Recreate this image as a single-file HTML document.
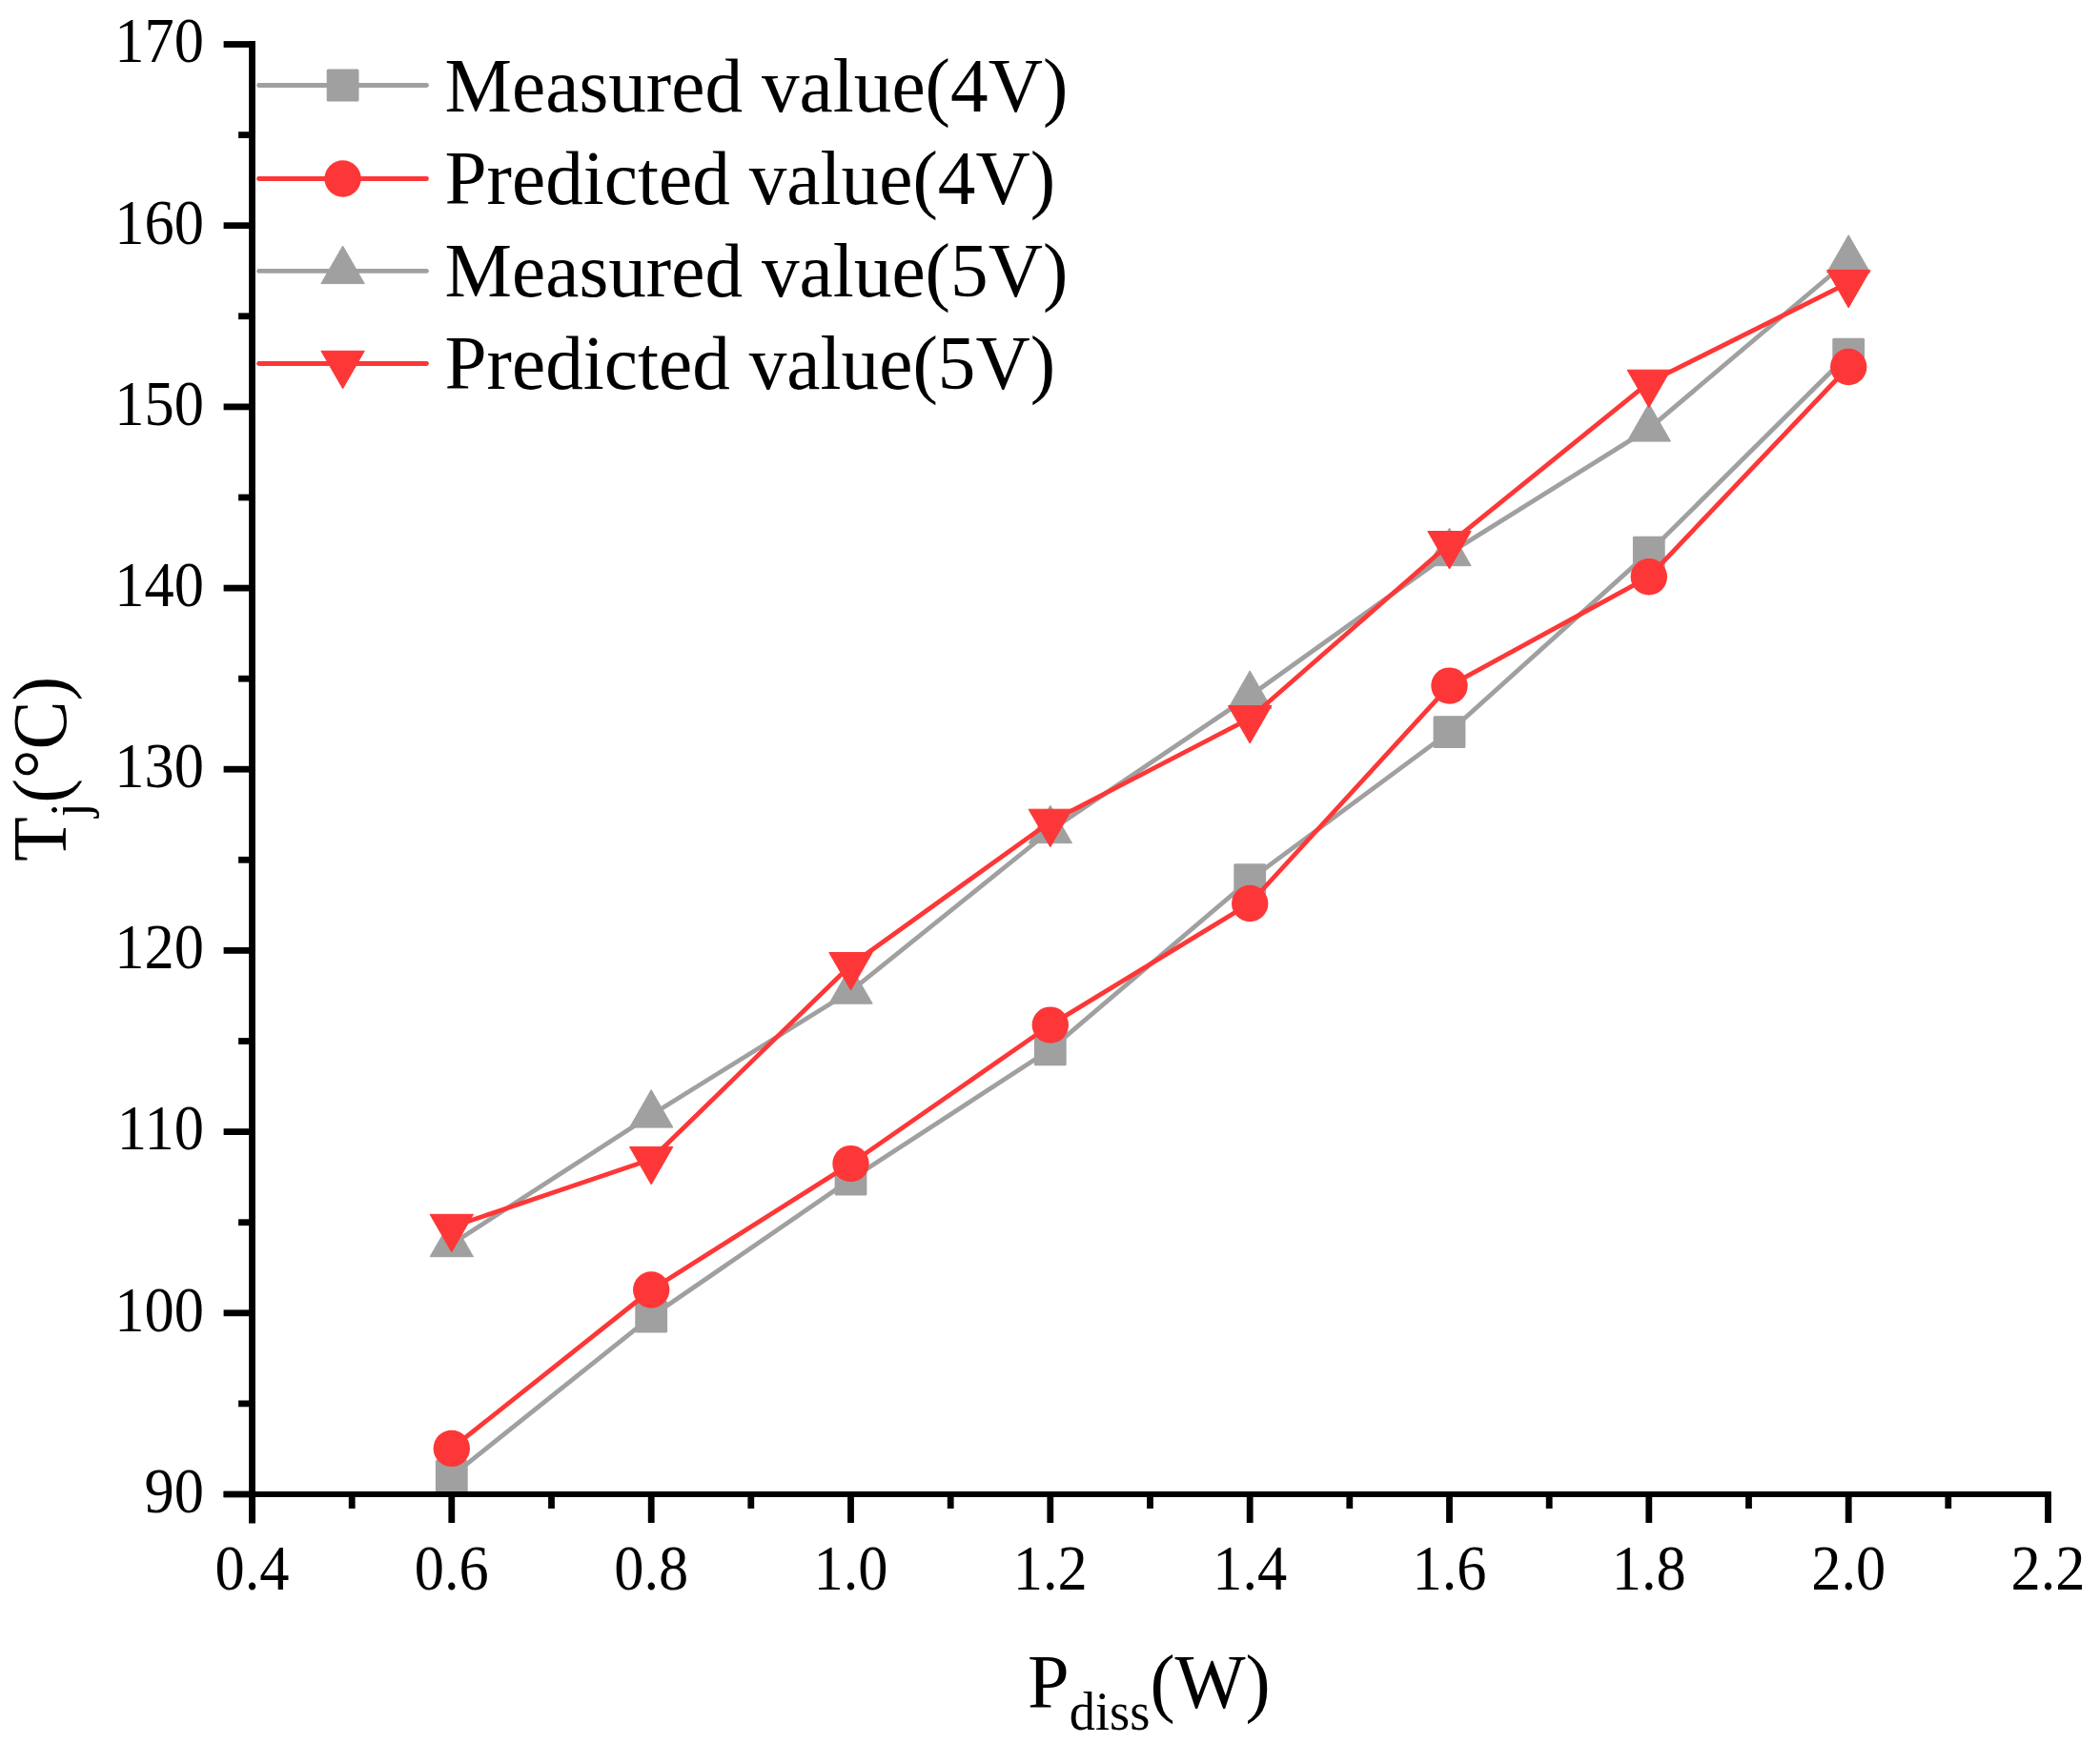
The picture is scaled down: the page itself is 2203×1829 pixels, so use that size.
<!DOCTYPE html>
<html><head><meta charset="utf-8"><title>Tj vs Pdiss</title>
<style>
html,body{margin:0;padding:0;background:#fff;}
body{width:2203px;height:1829px;overflow:hidden;}
svg{display:block;}
text{font-family:"Liberation Serif","Times New Roman",serif;fill:#000;}
</style></head><body>
<svg width="2203" height="1829" viewBox="0 0 2203 1829">
<rect width="2203" height="1829" fill="#fff"/>
<g>
<polyline points="473.8,1549.0 683.2,1381.6 892.5,1237.6 1101.8,1101.3 1311.2,923.1 1520.5,768.1 1729.8,579.6 1939.2,371.7" fill="none" stroke="#a0a0a0" stroke-width="4.8" stroke-linejoin="round" stroke-linecap="round"/>
<rect x="456.9" y="1532.1" width="33.8" height="33.8" rx="1.5" fill="#a0a0a0"/>
<rect x="666.3" y="1364.7" width="33.8" height="33.8" rx="1.5" fill="#a0a0a0"/>
<rect x="875.6" y="1220.7" width="33.8" height="33.8" rx="1.5" fill="#a0a0a0"/>
<rect x="1084.9" y="1084.4" width="33.8" height="33.8" rx="1.5" fill="#a0a0a0"/>
<rect x="1294.3" y="906.2" width="33.8" height="33.8" rx="1.5" fill="#a0a0a0"/>
<rect x="1503.6" y="751.2" width="33.8" height="33.8" rx="1.5" fill="#a0a0a0"/>
<rect x="1712.9" y="562.7" width="33.8" height="33.8" rx="1.5" fill="#a0a0a0"/>
<rect x="1922.3" y="354.8" width="33.8" height="33.8" rx="1.5" fill="#a0a0a0"/>
<polyline points="473.8,1519.9 683.2,1353.5 892.5,1221.1 1101.8,1075.6 1311.2,948.0 1520.5,719.6 1729.8,605.3 1939.2,385.0" fill="none" stroke="#fd3737" stroke-width="4.8" stroke-linejoin="round" stroke-linecap="round"/>
<circle cx="473.8" cy="1519.9" r="19.2" fill="#fd3737"/>
<circle cx="683.2" cy="1353.5" r="19.2" fill="#fd3737"/>
<circle cx="892.5" cy="1221.1" r="19.2" fill="#fd3737"/>
<circle cx="1101.8" cy="1075.6" r="19.2" fill="#fd3737"/>
<circle cx="1311.2" cy="948.0" r="19.2" fill="#fd3737"/>
<circle cx="1520.5" cy="719.6" r="19.2" fill="#fd3737"/>
<circle cx="1729.8" cy="605.3" r="19.2" fill="#fd3737"/>
<circle cx="1939.2" cy="385.0" r="19.2" fill="#fd3737"/>
<polyline points="473.8,1305.5 683.2,1169.9 892.5,1040.0 1101.8,871.5 1311.2,730.2 1520.5,580.5 1729.8,449.9 1939.2,273.0" fill="none" stroke="#a0a0a0" stroke-width="4.8" stroke-linejoin="round" stroke-linecap="round"/>
<polygon points="473.8,1279.2 496.5,1318.7 451.1,1318.7" fill="#a0a0a0" stroke="#a0a0a0" stroke-width="1" stroke-linejoin="round"/>
<polygon points="683.2,1143.6 705.9,1183.1 660.5,1183.1" fill="#a0a0a0" stroke="#a0a0a0" stroke-width="1" stroke-linejoin="round"/>
<polygon points="892.5,1013.7 915.2,1053.2 869.8,1053.2" fill="#a0a0a0" stroke="#a0a0a0" stroke-width="1" stroke-linejoin="round"/>
<polygon points="1101.8,845.2 1124.5,884.7 1079.1,884.7" fill="#a0a0a0" stroke="#a0a0a0" stroke-width="1" stroke-linejoin="round"/>
<polygon points="1311.2,703.9 1333.9,743.4 1288.5,743.4" fill="#a0a0a0" stroke="#a0a0a0" stroke-width="1" stroke-linejoin="round"/>
<polygon points="1520.5,554.2 1543.2,593.7 1497.8,593.7" fill="#a0a0a0" stroke="#a0a0a0" stroke-width="1" stroke-linejoin="round"/>
<polygon points="1729.8,423.6 1752.5,463.1 1707.1,463.1" fill="#a0a0a0" stroke="#a0a0a0" stroke-width="1" stroke-linejoin="round"/>
<polygon points="1939.2,246.7 1961.9,286.2 1916.5,286.2" fill="#a0a0a0" stroke="#a0a0a0" stroke-width="1" stroke-linejoin="round"/>
<polyline points="473.8,1287.5 683.2,1216.5 892.5,1012.7 1101.8,862.4 1311.2,753.8 1520.5,570.7 1729.8,401.4 1939.2,296.6" fill="none" stroke="#fd3737" stroke-width="4.8" stroke-linejoin="round" stroke-linecap="round"/>
<polygon points="451.1,1274.3 496.5,1274.3 473.8,1313.8" fill="#fd3737" stroke="#fd3737" stroke-width="1" stroke-linejoin="round"/>
<polygon points="660.5,1203.4 705.9,1203.4 683.2,1242.9" fill="#fd3737" stroke="#fd3737" stroke-width="1" stroke-linejoin="round"/>
<polygon points="869.8,999.5 915.2,999.5 892.5,1039.0" fill="#fd3737" stroke="#fd3737" stroke-width="1" stroke-linejoin="round"/>
<polygon points="1079.1,849.2 1124.5,849.2 1101.8,888.7" fill="#fd3737" stroke="#fd3737" stroke-width="1" stroke-linejoin="round"/>
<polygon points="1288.5,740.6 1333.9,740.6 1311.2,780.1" fill="#fd3737" stroke="#fd3737" stroke-width="1" stroke-linejoin="round"/>
<polygon points="1497.8,557.5 1543.2,557.5 1520.5,597.0" fill="#fd3737" stroke="#fd3737" stroke-width="1" stroke-linejoin="round"/>
<polygon points="1707.1,388.2 1752.5,388.2 1729.8,427.7" fill="#fd3737" stroke="#fd3737" stroke-width="1" stroke-linejoin="round"/>
<polygon points="1916.5,283.4 1961.9,283.4 1939.2,322.9" fill="#fd3737" stroke="#fd3737" stroke-width="1" stroke-linejoin="round"/>
</g>
<line x1="264.5" y1="43.1" x2="264.5" y2="1598.4" stroke="#000" stroke-width="6.8"/>
<line x1="234.60000000000002" y1="1568.0" x2="2151.9" y2="1568.0" stroke="#000" stroke-width="6"/>
<line x1="234.6" y1="1568.0" x2="264.5" y2="1568.0" stroke="#000" stroke-width="6.8"/>
<line x1="250.1" y1="1472.9" x2="264.5" y2="1472.9" stroke="#000" stroke-width="6.8"/>
<line x1="234.6" y1="1377.8" x2="264.5" y2="1377.8" stroke="#000" stroke-width="6.8"/>
<line x1="250.1" y1="1282.7" x2="264.5" y2="1282.7" stroke="#000" stroke-width="6.8"/>
<line x1="234.6" y1="1187.6" x2="264.5" y2="1187.6" stroke="#000" stroke-width="6.8"/>
<line x1="250.1" y1="1092.5" x2="264.5" y2="1092.5" stroke="#000" stroke-width="6.8"/>
<line x1="234.6" y1="997.4" x2="264.5" y2="997.4" stroke="#000" stroke-width="6.8"/>
<line x1="250.1" y1="902.3" x2="264.5" y2="902.3" stroke="#000" stroke-width="6.8"/>
<line x1="234.6" y1="807.2" x2="264.5" y2="807.2" stroke="#000" stroke-width="6.8"/>
<line x1="250.1" y1="712.2" x2="264.5" y2="712.2" stroke="#000" stroke-width="6.8"/>
<line x1="234.6" y1="617.1" x2="264.5" y2="617.1" stroke="#000" stroke-width="6.8"/>
<line x1="250.1" y1="522.0" x2="264.5" y2="522.0" stroke="#000" stroke-width="6.8"/>
<line x1="234.6" y1="426.9" x2="264.5" y2="426.9" stroke="#000" stroke-width="6.8"/>
<line x1="250.1" y1="331.8" x2="264.5" y2="331.8" stroke="#000" stroke-width="6.8"/>
<line x1="234.6" y1="236.7" x2="264.5" y2="236.7" stroke="#000" stroke-width="6.8"/>
<line x1="250.1" y1="141.6" x2="264.5" y2="141.6" stroke="#000" stroke-width="6.8"/>
<line x1="234.6" y1="46.5" x2="264.5" y2="46.5" stroke="#000" stroke-width="6.8"/>
<line x1="264.5" y1="1568.0" x2="264.5" y2="1598.0" stroke="#000" stroke-width="6.8"/>
<line x1="369.2" y1="1568.0" x2="369.2" y2="1583.0" stroke="#000" stroke-width="6.8"/>
<line x1="473.8" y1="1568.0" x2="473.8" y2="1598.0" stroke="#000" stroke-width="6.8"/>
<line x1="578.5" y1="1568.0" x2="578.5" y2="1583.0" stroke="#000" stroke-width="6.8"/>
<line x1="683.2" y1="1568.0" x2="683.2" y2="1598.0" stroke="#000" stroke-width="6.8"/>
<line x1="787.8" y1="1568.0" x2="787.8" y2="1583.0" stroke="#000" stroke-width="6.8"/>
<line x1="892.5" y1="1568.0" x2="892.5" y2="1598.0" stroke="#000" stroke-width="6.8"/>
<line x1="997.2" y1="1568.0" x2="997.2" y2="1583.0" stroke="#000" stroke-width="6.8"/>
<line x1="1101.8" y1="1568.0" x2="1101.8" y2="1598.0" stroke="#000" stroke-width="6.8"/>
<line x1="1206.5" y1="1568.0" x2="1206.5" y2="1583.0" stroke="#000" stroke-width="6.8"/>
<line x1="1311.2" y1="1568.0" x2="1311.2" y2="1598.0" stroke="#000" stroke-width="6.8"/>
<line x1="1415.8" y1="1568.0" x2="1415.8" y2="1583.0" stroke="#000" stroke-width="6.8"/>
<line x1="1520.5" y1="1568.0" x2="1520.5" y2="1598.0" stroke="#000" stroke-width="6.8"/>
<line x1="1625.2" y1="1568.0" x2="1625.2" y2="1583.0" stroke="#000" stroke-width="6.8"/>
<line x1="1729.8" y1="1568.0" x2="1729.8" y2="1598.0" stroke="#000" stroke-width="6.8"/>
<line x1="1834.5" y1="1568.0" x2="1834.5" y2="1583.0" stroke="#000" stroke-width="6.8"/>
<line x1="1939.2" y1="1568.0" x2="1939.2" y2="1598.0" stroke="#000" stroke-width="6.8"/>
<line x1="2043.8" y1="1568.0" x2="2043.8" y2="1583.0" stroke="#000" stroke-width="6.8"/>
<line x1="2148.5" y1="1568.0" x2="2148.5" y2="1598.0" stroke="#000" stroke-width="6.8"/>
<text transform="translate(214,1586.8) scale(0.925,1)" font-size="67.5" text-anchor="end">90</text>
<text transform="translate(214,1396.6) scale(0.925,1)" font-size="67.5" text-anchor="end">100</text>
<text transform="translate(214,1206.4) scale(0.925,1)" font-size="67.5" text-anchor="end">110</text>
<text transform="translate(214,1016.2) scale(0.925,1)" font-size="67.5" text-anchor="end">120</text>
<text transform="translate(214,826.0) scale(0.925,1)" font-size="67.5" text-anchor="end">130</text>
<text transform="translate(214,635.9) scale(0.925,1)" font-size="67.5" text-anchor="end">140</text>
<text transform="translate(214,445.7) scale(0.925,1)" font-size="67.5" text-anchor="end">150</text>
<text transform="translate(214,255.5) scale(0.925,1)" font-size="67.5" text-anchor="end">160</text>
<text transform="translate(214,65.3) scale(0.925,1)" font-size="67.5" text-anchor="end">170</text>
<text transform="translate(264.5,1667.5) scale(0.925,1)" font-size="67.5" text-anchor="middle">0.4</text>
<text transform="translate(473.8,1667.5) scale(0.925,1)" font-size="67.5" text-anchor="middle">0.6</text>
<text transform="translate(683.2,1667.5) scale(0.925,1)" font-size="67.5" text-anchor="middle">0.8</text>
<text transform="translate(892.5,1667.5) scale(0.925,1)" font-size="67.5" text-anchor="middle">1.0</text>
<text transform="translate(1101.8,1667.5) scale(0.925,1)" font-size="67.5" text-anchor="middle">1.2</text>
<text transform="translate(1311.2,1667.5) scale(0.925,1)" font-size="67.5" text-anchor="middle">1.4</text>
<text transform="translate(1520.5,1667.5) scale(0.925,1)" font-size="67.5" text-anchor="middle">1.6</text>
<text transform="translate(1729.8,1667.5) scale(0.925,1)" font-size="67.5" text-anchor="middle">1.8</text>
<text transform="translate(1939.2,1667.5) scale(0.925,1)" font-size="67.5" text-anchor="middle">2.0</text>
<text transform="translate(2148.5,1667.5) scale(0.925,1)" font-size="67.5" text-anchor="middle">2.2</text>
<text transform="translate(1078,1791.7) scale(0.99,1.025)" font-size="79.3">P<tspan font-size="55" dy="22.6">diss</tspan><tspan dy="-22.6">(W)</tspan></text>
<text transform="translate(68.8,807) rotate(-90) scale(0.965,1.025)" font-size="79.3" text-anchor="middle">T<tspan font-size="55" dy="22.6">j</tspan><tspan dy="-22.6">(°C)</tspan></text>
<line x1="271.5" y1="89.5" x2="447.5" y2="89.5" stroke="#a0a0a0" stroke-width="4.8" stroke-linecap="round"/>
<rect x="342.7" y="72.6" width="33.8" height="33.8" rx="1.5" fill="#a0a0a0"/>
<text transform="translate(466.5,116.9) scale(1,1.025)" font-size="79.3">Measured value(4V)</text>
<line x1="271.5" y1="187.5" x2="447.5" y2="187.5" stroke="#fd3737" stroke-width="4.8" stroke-linecap="round"/>
<circle cx="359.6" cy="187.5" r="19.2" fill="#fd3737"/>
<text transform="translate(466.5,213.8) scale(1,1.025)" font-size="79.3">Predicted value(4V)</text>
<line x1="271.5" y1="284.4" x2="447.5" y2="284.4" stroke="#a0a0a0" stroke-width="4.8" stroke-linecap="round"/>
<polygon points="359.6,258.1 382.3,297.6 336.9,297.6" fill="#a0a0a0" stroke="#a0a0a0" stroke-width="1" stroke-linejoin="round"/>
<text transform="translate(466.5,310.7) scale(1,1.025)" font-size="79.3">Measured value(5V)</text>
<line x1="271.5" y1="381.5" x2="447.5" y2="381.5" stroke="#fd3737" stroke-width="4.8" stroke-linecap="round"/>
<polygon points="336.9,368.3 382.3,368.3 359.6,407.8" fill="#fd3737" stroke="#fd3737" stroke-width="1" stroke-linejoin="round"/>
<text transform="translate(466.5,407.7) scale(1,1.025)" font-size="79.3">Predicted value(5V)</text>
</svg>
</body></html>
